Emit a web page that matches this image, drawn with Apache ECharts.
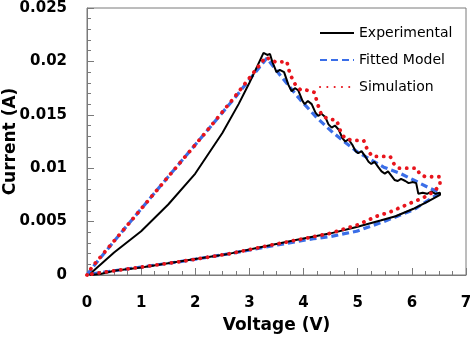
<!DOCTYPE html>
<html>
<head>
<meta charset="utf-8">
<script src="https://cdn.jsdelivr.net/npm/echarts@6/dist/echarts.min.js"></script>
<style>html,body{margin:0;padding:0;background:#fff}#c{width:474px;height:343px}</style>
</head>
<body>
<div id="c"></div>
<script>
// [Voltage (V), Current (A)]
var experimental = [
  [0.05,0],[0.1,0.0003],[0.5,0.0021],[1.0,0.0041],[1.5,0.0066],[2.0,0.0095],[2.5,0.0133],[2.8,0.016],[3.0,0.018],[3.15,0.0196],[3.26,0.0208],
  [3.33,0.0206],[3.38,0.0207],[3.42,0.02],[3.5,0.019],[3.56,0.0192],[3.64,0.019],[3.72,0.0178],[3.78,0.0172],[3.84,0.0175],[3.9,0.0173],
  [3.98,0.0163],[4.02,0.016],[4.08,0.0163],[4.15,0.016],[4.22,0.0152],[4.27,0.0149],[4.33,0.0151],[4.4,0.0148],[4.46,0.0141],[4.52,0.0138],
  [4.58,0.014],[4.65,0.0136],[4.72,0.0128],[4.77,0.0125],[4.83,0.0127],[4.9,0.0122],[4.96,0.0116],[5.01,0.0114],[5.07,0.0116],[5.14,0.0111],
  [5.2,0.0106],[5.25,0.0104],[5.31,0.0106],[5.38,0.0101],[5.44,0.0097],[5.5,0.0095],[5.56,0.0097],[5.62,0.0093],[5.68,0.0089],[5.74,0.0088],
  [5.8,0.009],[5.88,0.0088],[5.94,0.0086],[6.02,0.0087],[6.08,0.0086],[6.12,0.0076],[6.2,0.0077],[6.28,0.0076],[6.36,0.0078],[6.44,0.0076],[6.52,0.0077],
  [6.52,0.0075],[6.3,0.0069],[6.03,0.0062],[5.7,0.0055],[5.42,0.0051],[4.98,0.0045],[4.5,0.0039],[3.88,0.0033],[3.2,0.0026],[2.64,0.002],
  [2.0,0.0015],[1.5,0.0011],[1.0,0.0007],[0.5,0.0004],[0.25,0.0001],[0.05,0]
];
var fittedModel = [
  [0,0],[0.1,0.0007],[0.67,0.0042],[1.5,0.0092],[2.2,0.0134],[2.7,0.0164],[3.32,0.0203],
  [3.6,0.0185],[3.94,0.0164],[4.25,0.0147],[4.55,0.0133],[5.0,0.0115],[5.48,0.0101],[5.79,0.0095],[6.03,0.0089],[6.3,0.0082],[6.52,0.0077],
  [6.52,0.0076],[6.03,0.0061],[5.48,0.005],[4.98,0.0041],[4.5,0.0036],[4.18,0.0034],[3.5,0.0028],[2.64,0.002],[1.72,0.00125],[0.5,0.0004],[0.1,0.0001],[0,0]
];
var simulation = [
  [0,0],[0.1,0.0008],[0.67,0.0042],[1.5,0.0092],[2.2,0.0134],[2.7,0.0165],[3.3,0.0204],
  [3.5,0.0199],[3.69,0.02],[3.75,0.0188],[3.85,0.0178],[3.95,0.0173],[4.06,0.0173],[4.2,0.0171],[4.26,0.016],[4.33,0.015],[4.45,0.0146],
  [4.61,0.0145],[4.68,0.0135],[4.76,0.0128],[4.9,0.0126],[5.11,0.0126],[5.18,0.0117],[5.27,0.0111],[5.45,0.0111],[5.6,0.0111],[5.67,0.0104],
  [5.76,0.01],[5.95,0.01],[6.09,0.01],[6.15,0.0094],[6.25,0.0092],[6.4,0.0092],[6.52,0.0092],[6.52,0.0084],
  [6.4,0.0078],[6.2,0.0072],[5.91,0.0066],[5.6,0.0059],[5.35,0.0055],[5.0,0.0047],[4.49,0.0039],[4.0,0.0034],[3.3,0.0027],[2.64,0.002],
  [1.72,0.00125],[0.5,0.0004],[0.1,0.0001],[0,0]
];
var seriesNames = ['Experimental','Fitted Model','Simulation'];

var FONT = 'DejaVu Sans';
var axisCol = '#7a7a7a';
var chart = echarts.init(document.getElementById('c'), null, {renderer:'canvas'});
chart.setOption({
  animation: false,
  grid: {left:87, right:8, top:8, bottom:68, containLabel:false, outerBoundsMode:'none',
         show:true, borderColor:axisCol, borderWidth:1},
  legend: {
    orient:'vertical', left:314, top:21, itemWidth:34, itemHeight:14, itemGap:13,
    itemStyle:{opacity:0},
    textStyle:{fontFamily:FONT, fontSize:14, color:'#000'},
    data: seriesNames
  },
  xAxis: {
    type:'value', min:0, max:7, interval:1,
    name:'Voltage (V)', nameLocation:'middle', nameGap:42, nameMoveOverlap:false,
    nameTextStyle:{fontFamily:FONT, fontSize:17, fontWeight:'bold', color:'#000'},
    axisLine:{show:true, lineStyle:{color:axisCol, width:1}},
    axisTick:{show:true, inside:true, length:7, lineStyle:{color:axisCol}},
    minorTick:{show:true, splitNumber:4, length:4, lineStyle:{color:axisCol}},
    splitLine:{show:false},
    axisLabel:{fontFamily:FONT, fontSize:15, fontWeight:'bold', color:'#000', margin:21}
  },
  yAxis: {
    type:'value', min:0, max:0.025, interval:0.005,
    name:'Current (A)', nameLocation:'middle', nameGap:68, nameRotate:90, nameMoveOverlap:false,
    nameTextStyle:{fontFamily:FONT, fontSize:17, fontWeight:'bold', color:'#000'},
    axisLine:{show:true, lineStyle:{color:axisCol, width:1}},
    axisTick:{show:true, inside:true, length:7, lineStyle:{color:axisCol}},
    minorTick:{show:true, splitNumber:5, length:4, lineStyle:{color:axisCol}},
    splitLine:{show:false},
    axisLabel:{fontFamily:FONT, fontSize:15, fontWeight:'bold', color:'#000', margin:20}
  },
  series: [
    {name:seriesNames[0], type:'line', data:experimental, symbol:'none', z:3,
     lineStyle:{color:'#000', width:2}, itemStyle:{color:'#000'}},
    {name:seriesNames[1], type:'line', data:fittedModel, symbol:'none', z:2,
     lineStyle:{color:'#3a6ee8', width:3.2, type:[7,4]}, itemStyle:{color:'#3a6ee8'}},
    {name:seriesNames[2], type:'line', data:simulation, symbol:'none', z:4,
     lineStyle:{color:'#e8141c', width:3.8, type:[0.1,7.2], cap:'round'}, itemStyle:{color:'#e8141c'}}
  ]
});
</script>
</body>
</html>
